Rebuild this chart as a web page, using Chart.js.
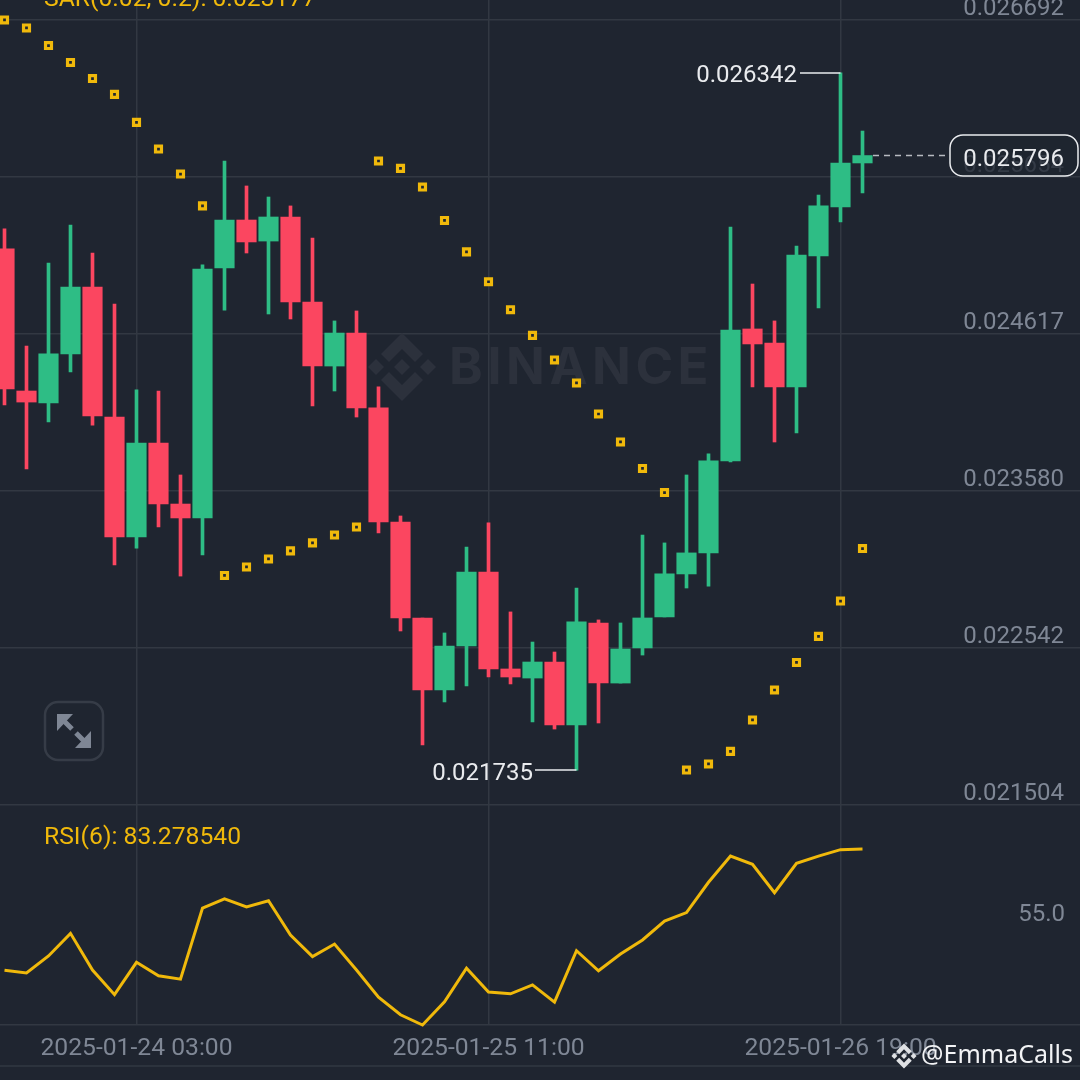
<!DOCTYPE html>
<html>
<head>
<meta charset="utf-8">
<style>
    html, body { margin: 0; padding: 0; background: #1f2530; }
    canvas { display: block; }
</style>
<script src="https://cdn.jsdelivr.net/npm/chart.js@4/dist/chart.umd.min.js"></script>
</head>
<body>
<canvas id="klineChart" width="1080" height="1080"></canvas>
<script>
const opens = [0.025179, 0.024240, 0.024161, 0.024485, 0.024927, 0.024068, 0.023275, 0.023896, 0.023493, 0.023401,
    0.025053, 0.025370, 0.025231, 0.025390, 0.024828, 0.024405, 0.024623, 0.024128, 0.023374, 0.022740,
    0.022264, 0.022555, 0.023044, 0.022403, 0.022343, 0.022449, 0.022033, 0.022707, 0.022310, 0.022542,
    0.022747, 0.023031, 0.023170, 0.023778, 0.024650, 0.024557, 0.024267, 0.025132, 0.025456, 0.025747];
const highs = [0.025311, 0.024537, 0.025086, 0.025337, 0.025152, 0.024815, 0.024247, 0.024240, 0.023685, 0.025073,
    0.025760, 0.025595, 0.025522, 0.025463, 0.025251, 0.024703, 0.024769, 0.024267, 0.023414, 0.022740,
    0.022641, 0.023209, 0.023368, 0.022780, 0.022581, 0.022515, 0.022938, 0.022727, 0.022707, 0.023288,
    0.023236, 0.023685, 0.023824, 0.025324, 0.024947, 0.024703, 0.025198, 0.025535, 0.026342, 0.025958];
const lows = [0.024148, 0.023725, 0.024035, 0.024366, 0.024015, 0.023090, 0.023202, 0.023341, 0.023017, 0.023156,
    0.024775, 0.025152, 0.024749, 0.024716, 0.024141, 0.024240, 0.024068, 0.023302, 0.022654, 0.021901,
    0.022185, 0.022291, 0.022350, 0.022304, 0.022053, 0.022006, 0.021735, 0.022046, 0.022310, 0.022495,
    0.022747, 0.022938, 0.022951, 0.023771, 0.024267, 0.023903, 0.023963, 0.024789, 0.025357, 0.025549];
const closes = [0.024253, 0.024167, 0.024485, 0.024927, 0.024075, 0.023275, 0.023896, 0.023493, 0.023401, 0.025046,
    0.025370, 0.025225, 0.025390, 0.024828, 0.024405, 0.024623, 0.024128, 0.023374, 0.022740, 0.022264,
    0.022555, 0.023044, 0.022403, 0.022350, 0.022449, 0.022033, 0.022714, 0.022310, 0.022535, 0.022740,
    0.023031, 0.023170, 0.023778, 0.024643, 0.024551, 0.024267, 0.025139, 0.025463, 0.025747, 0.025796];
const sarValues = [0.026692, 0.026639, 0.026523, 0.026411, 0.026305, 0.026200, 0.026015, 0.025839, 0.025674, 0.025463,
    0.023021, 0.023077, 0.023130, 0.023183, 0.023236, 0.023288, 0.023341, 0.025760, 0.025711, 0.025588,
    0.025367, 0.025159, 0.024962, 0.024777, 0.024608, 0.024445, 0.024293, 0.024088, 0.023903, 0.023728,
    0.023569, 0.021735, 0.021775, 0.021858, 0.022066, 0.022264, 0.022446, 0.022618, 0.022852, 0.023199];
const rsiValues = [30.1, 28.9, 36.4, 46.3, 30.2, 19.4, 33.6, 27.7, 26.2, 57.4,
    61.4, 57.9, 60.6, 45.6, 36.1, 41.6, 30.2, 18.3, 10.6, 6.1,
    16.3, 31.0, 20.6, 19.8, 23.7, 16.1, 38.7, 29.9, 37.2, 43.4,
    51.7, 55.4, 68.7, 80.2, 76.6, 64.1, 77.0, 80.2, 83.0, 83.28];

const priceTicks = [0.026692, 0.025654, 0.024617, 0.023580, 0.022542, 0.021504];
const rsiTicks = [55];
const timeTickIndexes = [6, 22, 38];
const timeTickLabels = ["2025-01-24 03:00", "2025-01-25 11:00", "2025-01-26 19:00"];

const highLabel = "0.026342";
const lowLabel = "0.021735";
const lastPriceLabel = "0.025796";
const sarLabel = "SAR(0.02, 0.2): 0.023177";
const rsiLabel = "RSI(6): 83.278540";

const BG = "#1f2530";
const GRID = "#323842";
const UP = "#2ebd85";
const DOWN = "#fb4660";
const YELLOW = "#f0b90b";
const MUTED = "#7f8795";
const WHITE = "#e9ebee";
const FONT = "Roboto";

const candleColors = closes.map((c, i) => (c >= opens[i] ? UP : DOWN));

// chart.js adds room for overflowing tick labels, the panes here run edge to edge
function noPadding(axis) {
    axis.paddingLeft = 0;
    axis.paddingRight = 0;
    axis.paddingTop = 0;
    axis.paddingBottom = 0;
}

function drawLogo(ctx, cx, cy, s, color) {
    const chevron = [[0, -34], [21, -13], [13, -5], [0, -18], [-13, -5], [-21, -13]];
    ctx.fillStyle = color;
    [1, -1].forEach(dir => {
        ctx.beginPath();
        chevron.forEach((p, i) => {
            const px = cx + p[0] * s;
            const py = cy + p[1] * s * dir;
            if (i === 0) ctx.moveTo(px, py);
            else ctx.lineTo(px, py);
        });
        ctx.closePath();
        ctx.fill();
    });
    [[0, 0], [-26, 0], [26, 0]].forEach(p => {
        const r = 8 * s;
        ctx.beginPath();
        ctx.moveTo(cx + p[0] * s, cy - r);
        ctx.lineTo(cx + p[0] * s + r, cy);
        ctx.lineTo(cx + p[0] * s, cy + r);
        ctx.lineTo(cx + p[0] * s - r, cy);
        ctx.closePath();
        ctx.fill();
    });
}

const watermark = {
    id: "watermark",
    beforeDatasetsDraw(chart) {
        const ctx = chart.ctx;
        ctx.save();
        drawLogo(ctx, 402, 367, 1, "#2c313c");
        ctx.fillStyle = "#2c313c";
        ctx.font = "700 51px Inter";
        ctx.letterSpacing = "4.5px";
        ctx.textAlign = "left";
        ctx.textBaseline = "middle";
        ctx.fillText("BINANCE", 449, 369);
        ctx.restore();
    }
};

const overlays = {
    id: "overlays",
    afterDraw(chart) {
        const ctx = chart.ctx;
        const x = chart.scales.x;
        const y = chart.scales.y;
        ctx.save();

        // indicator titles
        ctx.font = "24.7px " + FONT;
        ctx.fillStyle = YELLOW;
        ctx.textAlign = "left";
        ctx.textBaseline = "alphabetic";
        ctx.fillText(sarLabel, 44, 6);
        ctx.fillText(rsiLabel, 44, 844);

        // high / low callouts
        ctx.font = "24px " + FONT;
        const hiIdx = highs.indexOf(Math.max(...highs));
        const loIdx = lows.indexOf(Math.min(...lows));
        const hiY = y.getPixelForValue(highs[hiIdx]);
        const loY = y.getPixelForValue(lows[loIdx]);
        ctx.strokeStyle = WHITE;
        ctx.lineWidth = 1.5;
        ctx.beginPath();
        ctx.moveTo(800, hiY);
        ctx.lineTo(x.getPixelForValue(hiIdx), hiY);
        ctx.moveTo(535, loY);
        ctx.lineTo(x.getPixelForValue(loIdx), loY);
        ctx.stroke();
        ctx.fillStyle = WHITE;
        ctx.textAlign = "right";
        ctx.textBaseline = "middle";
        ctx.fillText(highLabel, 797, hiY + 3);
        ctx.fillText(lowLabel, 533, loY + 4);

        // last price
        const lastY = y.getPixelForValue(closes[closes.length - 1]);
        ctx.strokeStyle = "#b7bac0";
        ctx.lineWidth = 1.5;
        ctx.setLineDash([6, 5]);
        ctx.beginPath();
        ctx.moveTo(873, lastY);
        ctx.lineTo(946, lastY);
        ctx.stroke();
        ctx.setLineDash([]);

        ctx.beginPath();
        ctx.roundRect(950, 135, 128, 41, 13);
        ctx.fillStyle = "rgba(31,37,48,0.78)";
        ctx.fill();
        ctx.strokeStyle = WHITE;
        ctx.lineWidth = 1.5;
        ctx.stroke();
        ctx.fillStyle = WHITE;
        ctx.fillText(lastPriceLabel, 1064, 160);

        // footer rule
        ctx.strokeStyle = GRID;
        ctx.lineWidth = 1.5;
        ctx.beginPath();
        ctx.moveTo(0, 1066);
        ctx.lineTo(1080, 1066);
        ctx.stroke();

        // expand button
        ctx.beginPath();
        ctx.roundRect(45, 702, 58, 58, 13);
        ctx.strokeStyle = "#363c47";
        ctx.lineWidth = 2.5;
        ctx.stroke();
        ctx.fillStyle = MUTED;
        ctx.strokeStyle = MUTED;
        ctx.lineWidth = 5;
        ctx.beginPath();
        ctx.moveTo(57, 714);
        ctx.lineTo(73, 714);
        ctx.lineTo(57, 731);
        ctx.closePath();
        ctx.moveTo(91, 748);
        ctx.lineTo(75, 748);
        ctx.lineTo(91, 731);
        ctx.closePath();
        ctx.fill();
        ctx.beginPath();
        ctx.moveTo(63, 720);
        ctx.lineTo(72, 729);
        ctx.moveTo(76, 733);
        ctx.lineTo(85, 742);
        ctx.stroke();

        // credit
        drawLogo(ctx, 904, 1056, 0.37, "#dfe1e4");
        ctx.fillStyle = "#f2f3f5";
        ctx.font = "25px 'Noto Sans'";
        ctx.textAlign = "left";
        ctx.fillText("@EmmaCalls", 921, 1056);
        ctx.restore();
    }
};

const canvas = document.getElementById("klineChart");
new Chart(canvas, {
    data: {
        datasets: [
            {
                type: "line",
                label: "SAR",
                yAxisID: "y",
                data: sarValues.map((v, i) => ({ x: i, y: v })),
                showLine: false,
                pointStyle: "rect",
                pointRadius: 4.2,
                pointBorderWidth: 3.2,
                pointBorderColor: YELLOW,
                pointBackgroundColor: BG
            },
            {
                type: "bar",
                label: "Body",
                yAxisID: "y",
                data: opens.map((o, i) => ({ x: i, y: [o, closes[i]] })),
                backgroundColor: candleColors,
                barThickness: 19.5,
                grouped: false
            },
            {
                type: "bar",
                label: "Wick",
                yAxisID: "y",
                data: lows.map((l, i) => ({ x: i, y: [l, highs[i]] })),
                backgroundColor: candleColors,
                barThickness: 3,
                grouped: false
            },
            {
                type: "line",
                label: "RSI(6)",
                yAxisID: "rsi",
                data: rsiValues.map((v, i) => ({ x: i, y: v })),
                borderColor: YELLOW,
                borderWidth: 3,
                pointRadius: 0,
                tension: 0,
                clip: false
            }
        ]
    },
    options: {
        responsive: false,
        devicePixelRatio: 1,
        animation: false,
        layout: { padding: 0, autoPadding: false },
        plugins: { legend: { display: false }, tooltip: { enabled: false } },
        scales: {
            x: {
                type: "linear",
                position: "bottom",
                offset: false,
                min: -0.2045,
                max: 48.886,
                afterBuildTicks: axis => { axis.ticks = timeTickIndexes.map(v => ({ value: v })); },
                afterFit: axis => { axis.height = 55; noPadding(axis); },
                grid: { color: GRID, lineWidth: 1.5, drawTicks: false, offset: false },
                border: { color: GRID, width: 1.5 },
                ticks: {
                    color: MUTED,
                    font: { family: FONT, size: 24.7 },
                    padding: 9,
                    autoSkip: false,
                    maxRotation: 0,
                    callback: v => timeTickLabels[timeTickIndexes.indexOf(v)]
                }
            },
            y: {
                position: "right",
                stack: "panes",
                stackWeight: 805,
                min: 0.021504,
                max: 0.026824,
                afterBuildTicks: axis => { axis.ticks = priceTicks.map(v => ({ value: v })); },
                afterFit: axis => { axis.width = 0; noPadding(axis); },
                grid: { color: GRID, lineWidth: 1.5, drawTicks: false },
                border: { display: false },
                ticks: {
                    mirror: true,
                    padding: -16,
                    labelOffset: -11,
                    color: MUTED,
                    font: { family: FONT, size: 24 },
                    autoSkip: false,
                    callback: v => v.toFixed(6)
                }
            },
            rsi: {
                position: "right",
                stack: "panes",
                stackWeight: 220,
                min: 6.1,
                max: 102.6,
                afterBuildTicks: axis => { axis.ticks = rsiTicks.map(v => ({ value: v })); },
                afterFit: axis => { axis.width = 0; noPadding(axis); },
                grid: { display: false },
                border: { display: false },
                ticks: {
                    mirror: true,
                    padding: -15,
                    labelOffset: 1,
                    color: MUTED,
                    font: { family: FONT, size: 24 },
                    autoSkip: false,
                    callback: v => v.toFixed(1)
                }
            }
        }
    },
    plugins: [watermark, overlays]
});
</script>
</body>
</html>
